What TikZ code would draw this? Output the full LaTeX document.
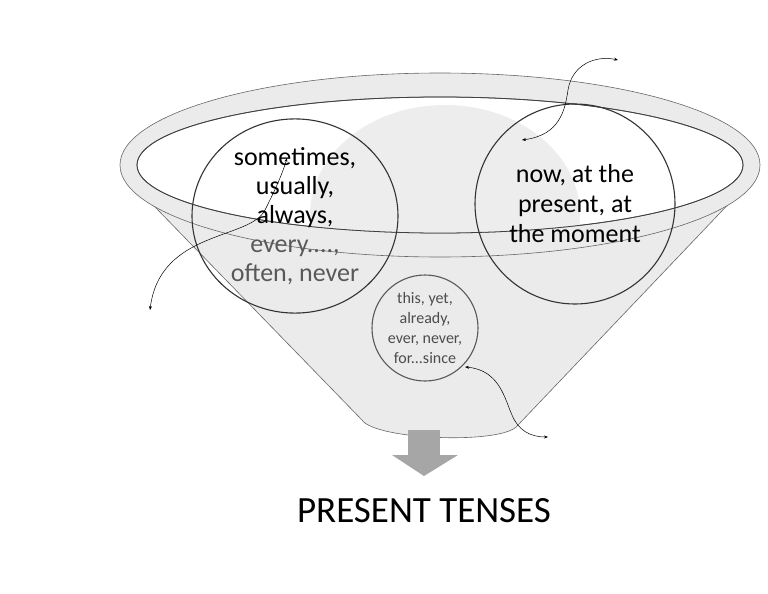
\documentclass[tikz,border=0pt]{standalone}
\usepackage{fontspec}
\setmainfont{Carlito}
\usetikzlibrary{arrows.meta,shapes.geometric}
\begin{document}
\begin{tikzpicture}[x=1pt,y=-1pt,
  ring/.style={draw=black!80,line width=1.1pt},
  dbl/.style={{Stealth[length=4pt,width=3pt]}-{Stealth[length=4pt,width=3pt]},line width=0.5pt}]
\useasboundingbox (0,0) rectangle (768,594);
% funnel body
\fill[gray!16,draw=black!60,line width=0.6pt] (121,172) -- (362,420) .. controls (375,440) and (505,445) .. (518,425) -- (759,172) -- cycle;
\fill[gray!16,draw=black!60,line width=0.6pt] (440,165) ellipse [x radius=320,y radius=92];
\fill[white,draw=black!70,line width=0.7pt] (440,165) ellipse [x radius=303,y radius=68];
\begin{scope}
\clip (440,165) ellipse [x radius=303,y radius=68];
\fill[gray!14] (445,215) ellipse [x radius=135,y radius=110];
\end{scope}
\draw[black!75,line width=0.8pt] (440,165) ellipse [x radius=303,y radius=68];
% circles
\node[ring,ellipse,minimum width=206,minimum height=166,inner sep=0,align=center,font=\fontsize{26}{29}\selectfont] (a) at (295,216)
 {sometimes,\\usually,\\always,\\\textcolor{black!65}{every....,}\\\textcolor{black!65}{often, never}};
\node[ring,circle,minimum size=200,inner sep=0,align=center,font=\fontsize{26}{30}\selectfont] (b) at (575,204)
 {now, at the\\present, at\\the moment};
\node[ring,draw=black!65,circle,minimum size=106,inner sep=0,align=center,text=black!70,font=\fontsize{16}{20}\selectfont] (c) at (425,328)
 {this, yet,\\already,\\ever, never,\\for...since};
% curvy arrows
\coordinate (a1) at (150,310); \coordinate (a2) at (287,158);
\draw[dbl] (a1) .. controls (160,230) and (250,240) .. (265,210) .. controls (275,190) and (282,175) .. (a2);
\coordinate (b1) at (522,140); \coordinate (b2) at (618,60);
\draw[dbl] (b1) .. controls (560,135) and (565,110) .. (568,90) .. controls (572,65) and (595,55) .. (b2);
\coordinate (c1) at (465,367); \coordinate (c2) at (548,437);
\draw[dbl] (c1) .. controls (500,370) and (505,400) .. (512,415) .. controls (518,430) and (530,437) .. (c2);
% down arrow
\fill[gray!70] (408,430) rectangle (440,455);
\fill[gray!70] (392,455) -- (458,455) -- (424,476) -- cycle;
\node[font=\fontsize{37}{42}\selectfont] (t) at (424,511) {PRESENT TENSES};
\end{tikzpicture}
\end{document}
